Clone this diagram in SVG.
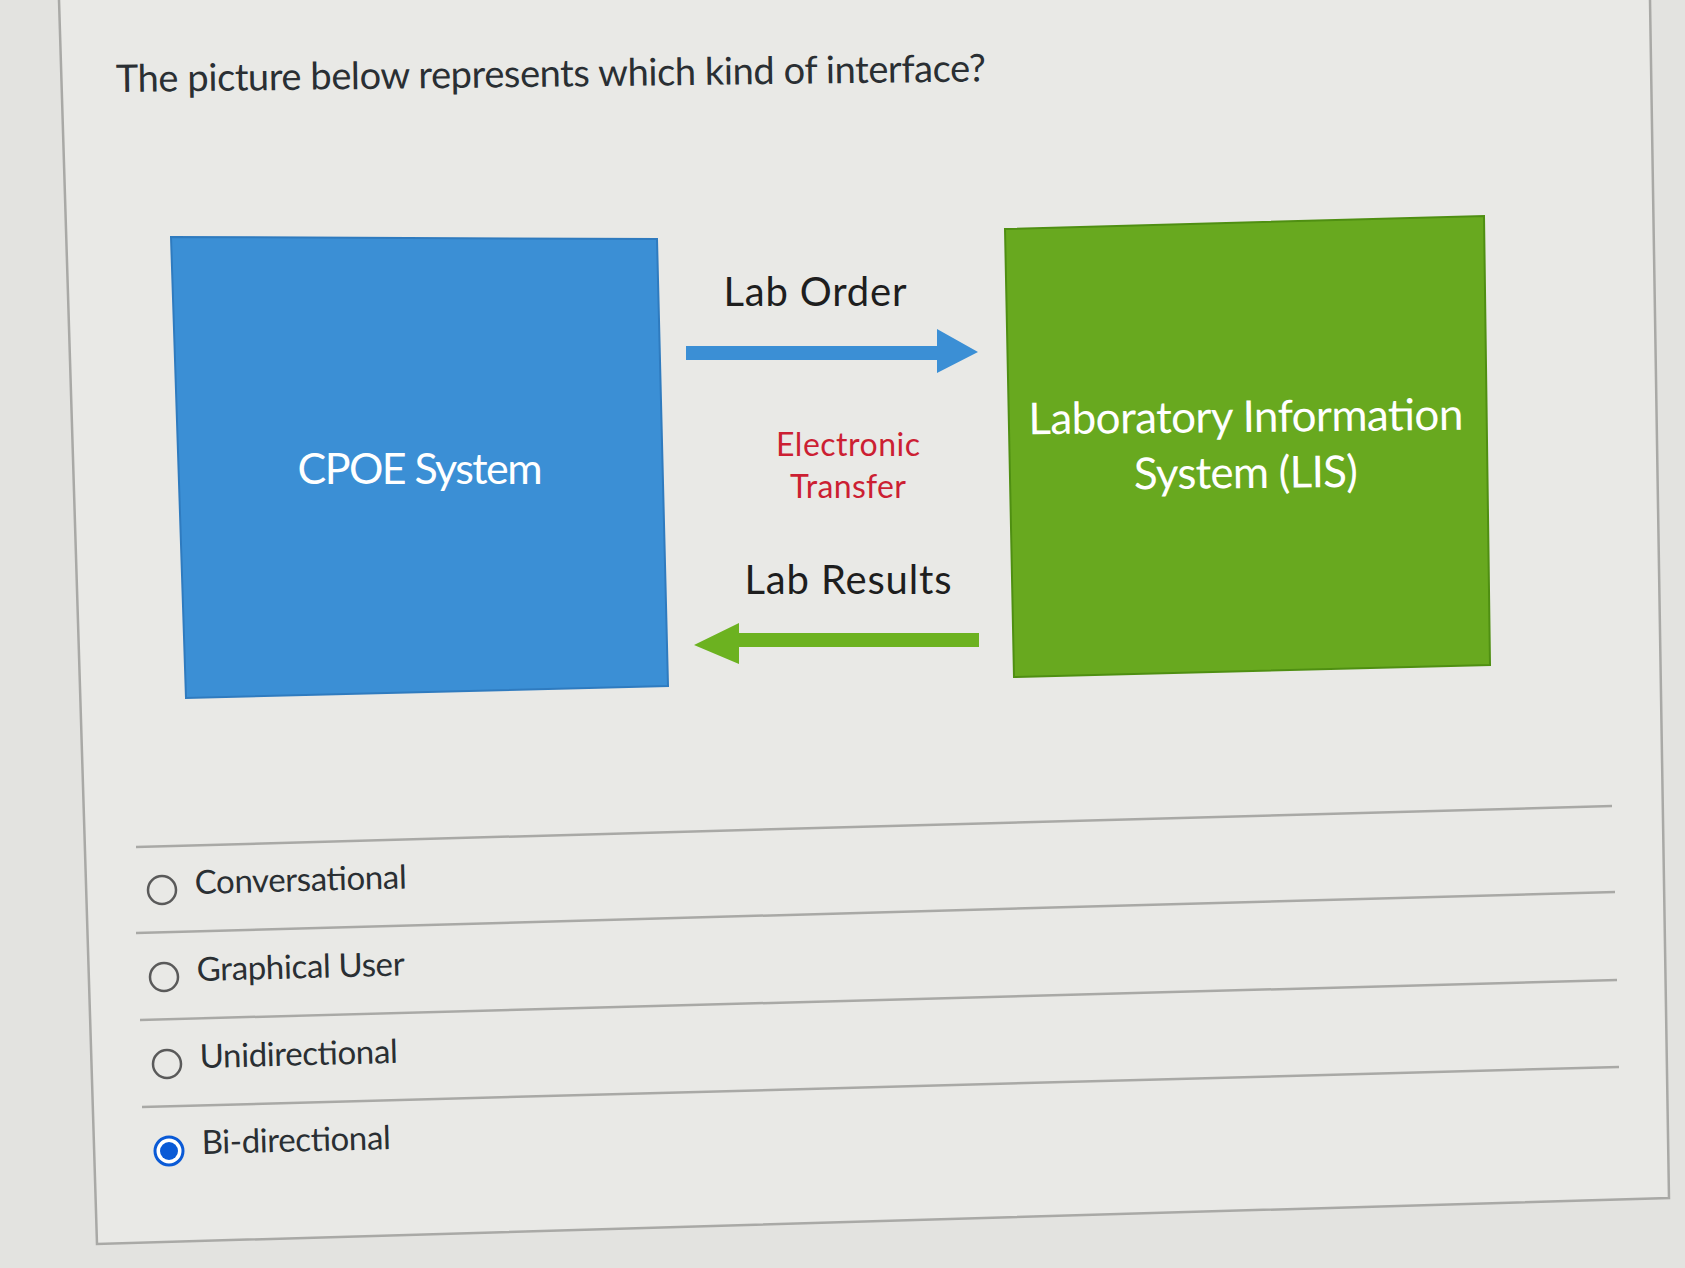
<svg xmlns="http://www.w3.org/2000/svg" width="1685" height="1268" viewBox="0 0 1685 1268">
<style>
.t{font-family:Lato,"Open Sans","Liberation Sans",sans-serif;fill:#2a2f33}
.d{font-family:Lato,"Open Sans","Liberation Sans",sans-serif}
.sep{stroke:#a9a9a6;stroke-width:2.5;fill:none}
.radio{fill:none;stroke:#5a5a5a;stroke-width:2.5}
</style>
<rect x="0" y="0" width="1685" height="1268" fill="#e3e3e0"/>
<polygon points="59,0 1650,0 1669,1198 97,1244" fill="#e9e9e6"/>
<polyline class="sep" points="59,0 97,1244 1669,1198 1650,0" stroke="#8f8f8c"/>
<text class="t" x="116" y="92" font-size="38" textLength="870" transform="rotate(-0.7 116 92)">The picture below represents which kind of interface?</text>

<g id="cpoe">
<polygon points="171,237 657,239 668,686 186,698" fill="#3b8fd5" stroke="#2f7bbf" stroke-width="2"/>
<text class="d" x="420" y="484" font-size="43" fill="#ffffff" text-anchor="middle" textLength="245">CPOE System</text>
</g>
<g id="lis">
<polygon points="1005,229 1484,216 1490,665 1014,677" fill="#68a91f" stroke="#4f8f12" stroke-width="2"/>
<text class="d" x="1246" y="432" font-size="44" fill="#ffffff" text-anchor="middle" textLength="435" transform="rotate(-0.6 1246 432)">Laboratory Information</text>
<text class="d" x="1246" y="488" font-size="44" fill="#ffffff" text-anchor="middle" textLength="224" transform="rotate(-0.6 1246 488)">System (LIS)</text>
</g>
<g id="connectors">
<polygon points="686,346 937,346 937,329 978,352 937,373 937,360 686,360" fill="#3b8fd5"/>
<polygon points="979,633 739,633 739,623 694,645 739,664 739,647 979,647" fill="#6cb220"/>
<text class="d" x="815" y="306" font-size="40" fill="#1e1e1e" text-anchor="middle" textLength="183">Lab Order</text>
<text class="d" x="848" y="456" font-size="32" fill="#cc1f33" text-anchor="middle" textLength="144">Electronic</text>
<text class="d" x="848" y="498" font-size="32" fill="#cc1f33" text-anchor="middle" textLength="116">Transfer</text>
<text class="d" x="848" y="594" font-size="40" fill="#1e1e1e" text-anchor="middle" textLength="207">Lab Results</text>
</g>

<line class="sep" x1="136" y1="847" x2="1612" y2="806"/>
<line class="sep" x1="136" y1="933" x2="1615" y2="892"/>
<line class="sep" x1="140" y1="1020" x2="1617" y2="980"/>
<line class="sep" x1="142" y1="1107" x2="1619" y2="1067"/>

<g id="opt1">
<circle class="radio" cx="162" cy="890" r="14"/>
<text class="t" x="195" y="894" font-size="33" textLength="212" transform="rotate(-1.5 195 894)">Conversational</text>
</g>
<g id="opt2">
<circle class="radio" cx="164" cy="977" r="14"/>
<text class="t" x="197" y="981" font-size="33" textLength="208" transform="rotate(-1.5 197 981)">Graphical User</text>
</g>
<g id="opt3">
<circle class="radio" cx="167" cy="1064" r="14"/>
<text class="t" x="200" y="1068" font-size="33" textLength="198" transform="rotate(-1.5 200 1068)">Unidirectional</text>
</g>
<g id="opt4">
<circle cx="169" cy="1151" r="14" fill="#ffffff" stroke="#0a5ad6" stroke-width="3"/>
<circle cx="169" cy="1151" r="9" fill="#0a5ad6"/>
<text class="t" x="202" y="1154" font-size="33" textLength="189" transform="rotate(-1.5 202 1154)">Bi-directional</text>
</g>
</svg>
